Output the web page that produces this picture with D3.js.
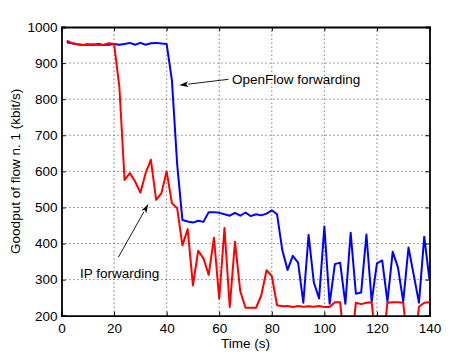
<!DOCTYPE html>
<html>
<head>
<meta charset="utf-8">
<script src="https://cdn.jsdelivr.net/npm/d3@7/dist/d3.min.js"></script>
<style>
  html, body { margin: 0; padding: 0; background: #fff; }
  svg { display: block; }
  text { font-family: "Liberation Sans", Arial, Helvetica, sans-serif; fill: #000; }
</style>
</head>
<body>
<svg id="chart" width="474" height="356"></svg>
<script>
// ---------------- data ----------------
const time = [2,4,6,8,10,12,14,16,18,20,22,24,26,28,30,32,34,36,38,40,
  42,44,46,48,50,52,54,56,58,60,62,64,66,68,70,72,74,76,78,80,
  82,84,86,88,90,92,94,96,98,100,102,104,106,108,110,112,114,116,118,120,
  122,124,126,128,130,132,134,136,138,140];

const openflowGoodput = [958,955,952,950,952,950,953,950,951,953,
  951,953,956,951,956,951,955,956,954,953,
  853,620,465,461,458,463,460,487,487,485,481,477,485,477,486,476,481,478,483,492,
  481,382,327,366,347,236,424,292,248,447,233,343,347,233,430,261,264,425,239,345,
  353,239,377,334,239,389,313,236,419,299];

const ipGoodput = [962,955,952,950,950,952,950,951,955,953,
  835,576,595,572,541,595,632,521,539,600,
  512,498,395,440,284,380,359,313,416,247,443,224,405,268,222,222,222,256,326,310,
  229,226,227,224,227,225,226,225,227,224,224,237,237,100,100,236,232,236,237,100,
  100,236,237,237,236,100,100,225,236,237];

const xTicks = [0,20,40,60,80,100,120,140];
const yTicks = [200,300,400,500,600,700,800,900,1000];

const xLabel = "Time (s)";
const yLabel = "Goodput of flow n. 1 (kbit/s)";
const openflowNote = "OpenFlow forwarding";
const ipNote = "IP forwarding";

// ---------------- layout ----------------
const svg = d3.select("#chart");
const L = 61.5, R = 429.5, T = 27, B = 315.7;
const x = d3.scaleLinear().domain([0, 140]).range([L, R]);
const y = d3.scaleLinear().domain([200, 1000]).range([B, T]);
const fontSize = "13.5px";

// grid
const grid = svg.append("g").attr("stroke", "#444").attr("stroke-width", 1)
  .attr("stroke-dasharray", "1,3").attr("fill", "none");
xTicks.slice(1, -1).forEach(t => {
  grid.append("line").attr("x1", x(t)).attr("x2", x(t)).attr("y1", B).attr("y2", T);
});
yTicks.slice(1, -1).forEach(t => {
  grid.append("line").attr("x1", L).attr("x2", R).attr("y1", y(t)).attr("y2", y(t));
});

// clip
svg.append("defs").append("clipPath").attr("id", "plotClip")
  .append("rect").attr("x", L).attr("y", T).attr("width", R - L).attr("height", B - T);

const line = d3.line().x(d => x(d[0])).y(d => y(d[1]));
const plot = svg.append("g").attr("clip-path", "url(#plotClip)");
plot.append("path").datum(time.map((t, i) => [t, openflowGoodput[i]]))
  .attr("d", line).attr("fill", "none").attr("stroke", "#0000ff")
  .attr("stroke-width", 2).attr("stroke-linejoin", "round");
plot.append("path").datum(time.map((t, i) => [t, ipGoodput[i]]))
  .attr("d", line).attr("fill", "none").attr("stroke", "#ff0000")
  .attr("stroke-width", 2).attr("stroke-linejoin", "round");

// axes (ticks inside, on all four sides)
const tickLen = 4;
const axB = svg.append("g").attr("transform", `translate(0,${B})`)
  .call(d3.axisBottom(x).tickValues(xTicks).tickSize(-tickLen).tickPadding(8).tickFormat(d3.format("d")));
const axT = svg.append("g").attr("transform", `translate(0,${T})`)
  .call(d3.axisTop(x).tickValues(xTicks).tickSize(-tickLen).tickFormat(""));
const axL = svg.append("g").attr("transform", `translate(${L},0)`)
  .call(d3.axisLeft(y).tickValues(yTicks).tickSize(-tickLen).tickPadding(4).tickFormat(d3.format("d")));
const axR = svg.append("g").attr("transform", `translate(${R},0)`)
  .call(d3.axisRight(y).tickValues(yTicks).tickSize(-tickLen).tickFormat(""));
[axB, axT, axL, axR].forEach(a => {
  a.select(".domain").attr("stroke", "#000").attr("stroke-width", 1.8);
  a.selectAll(".tick line").attr("stroke", "#000").attr("stroke-width", 1);
  a.selectAll("text").style("font-size", fontSize).attr("fill", "#000");
});
axB.selectAll(".tick text").attr("dy", "0.71em");

// axis labels
svg.append("text").attr("x", (L + R) / 2).attr("y", 348)
  .attr("text-anchor", "middle").style("font-size", fontSize).text(xLabel);
svg.append("text").attr("transform", `translate(20,${(T + B) / 2}) rotate(-90)`)
  .attr("text-anchor", "middle").style("font-size", fontSize).text(yLabel);

// annotations with arrows
function arrow(x1, y1, x2, y2) {
  const ang = Math.atan2(y2 - y1, x2 - x1);
  const len = 9, half = 2.8;
  const bx = x2 - len * Math.cos(ang), by = y2 - len * Math.sin(ang);
  svg.append("line").attr("x1", x1).attr("y1", y1).attr("x2", bx).attr("y2", by)
    .attr("stroke", "#000").attr("stroke-width", 0.9);
  const pts = [
    [x2, y2],
    [bx + half * Math.sin(ang), by - half * Math.cos(ang)],
    [bx + 2 * Math.cos(ang), by + 2 * Math.sin(ang)],
    [bx - half * Math.sin(ang), by + half * Math.cos(ang)]
  ];
  svg.append("polygon").attr("points", pts.map(p => p.join(",")).join(" ")).attr("fill", "#000");
}
svg.append("text").attr("x", 232).attr("y", 84).style("font-size", fontSize).text(openflowNote);
arrow(228.5, 79.3, 179.3, 85.2);
svg.append("text").attr("x", 80).attr("y", 278).style("font-size", fontSize).text(ipNote);
arrow(118.3, 257.3, 148.3, 204);
</script>
</body>
</html>
